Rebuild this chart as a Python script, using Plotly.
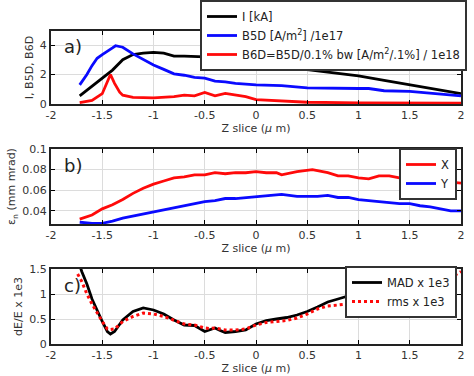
import plotly.graph_objects as go

# Panel a data
z_I = [-1.72, -1.6, -1.5, -1.4, -1.3, -1.2, -1.1, -1.0, -0.9, -0.8, -0.7, -0.6, -0.5, -0.4, -0.3, -0.2, -0.1, 0.0, 0.25, 0.5, 0.75, 1.0, 1.25, 1.5, 1.75, 2.0]
I_kA = [0.55, 1.2, 1.7, 2.3, 3.0, 3.35, 3.45, 3.5, 3.45, 3.25, 3.25, 3.2, 3.2, 3.05, 3.0, 2.95, 2.85, 2.75, 2.55, 2.35, 2.15, 1.9, 1.6, 1.3, 1.0, 0.7]

z_B5 = [-1.72, -1.65, -1.6, -1.55, -1.5, -1.45, -1.4, -1.37, -1.3, -1.2, -1.1, -1.0, -0.9, -0.8, -0.7, -0.6, -0.5, -0.4, -0.3, -0.2, 0.0, 0.25, 0.5, 0.75, 1.0, 1.1, 1.25, 1.5, 1.75, 2.0]
B5D = [1.3, 2.0, 2.6, 3.1, 3.35, 3.55, 3.8, 3.95, 3.85, 3.4, 3.0, 2.65, 2.35, 2.05, 1.95, 1.8, 1.75, 1.55, 1.5, 1.4, 1.3, 1.25, 1.1, 1.05, 1.05, 1.05, 0.9, 0.85, 0.7, 0.55]

z_B6 = [-1.72, -1.6, -1.5, -1.46, -1.42, -1.38, -1.33, -1.3, -1.2, -1.0, -0.8, -0.7, -0.6, -0.5, -0.4, -0.3, -0.2, -0.1, 0.0, 0.2, 0.5, 1.0, 1.5, 2.0]
B6D = [0.1, 0.25, 0.7, 1.4, 2.0, 1.4, 0.8, 0.6, 0.45, 0.42, 0.5, 0.6, 0.55, 0.78, 0.55, 0.72, 0.6, 0.5, 0.3, 0.22, 0.12, 0.08, 0.05, 0.05]

# Panel b data
z_em = [-1.72, -1.6, -1.5, -1.4, -1.3, -1.2, -1.1, -1.0, -0.9, -0.8, -0.7, -0.6, -0.5, -0.4, -0.3, -0.2, -0.1, 0.0, 0.1, 0.2, 0.25, 0.4, 0.55, 0.6, 0.7, 0.8, 0.9, 1.0, 1.1, 1.2, 1.3, 1.4, 1.5, 1.6, 1.7, 1.8, 1.9, 2.0]
emit_x = [0.032, 0.036, 0.042, 0.046, 0.051, 0.057, 0.062, 0.066, 0.069, 0.072, 0.073, 0.075, 0.075, 0.077, 0.076, 0.077, 0.077, 0.078, 0.077, 0.077, 0.075, 0.078, 0.080, 0.079, 0.077, 0.074, 0.074, 0.072, 0.071, 0.074, 0.074, 0.072, 0.071, 0.070, 0.070, 0.069, 0.068, 0.067]
emit_y = [0.029, 0.028, 0.028, 0.030, 0.033, 0.035, 0.037, 0.039, 0.041, 0.043, 0.045, 0.047, 0.049, 0.050, 0.052, 0.052, 0.053, 0.054, 0.055, 0.056, 0.056, 0.054, 0.054, 0.054, 0.055, 0.053, 0.053, 0.051, 0.050, 0.049, 0.048, 0.047, 0.047, 0.045, 0.044, 0.042, 0.040, 0.040]

# Panel c data
z_dE = [-1.74, -1.7, -1.65, -1.6, -1.5, -1.45, -1.42, -1.38, -1.3, -1.2, -1.1, -1.0, -0.9, -0.8, -0.7, -0.6, -0.5, -0.45, -0.4, -0.35, -0.3, -0.2, -0.1, 0.0, 0.1, 0.2, 0.3, 0.4, 0.5, 0.6, 0.7, 0.8, 0.9, 1.0, 1.1, 1.2, 1.3, 1.4, 1.5, 1.6, 1.8, 2.0]
mad = [1.7, 1.45, 1.2, 0.9, 0.45, 0.25, 0.2, 0.25, 0.48, 0.65, 0.72, 0.68, 0.6, 0.48, 0.38, 0.37, 0.25, 0.28, 0.32, 0.27, 0.23, 0.25, 0.28, 0.4, 0.47, 0.5, 0.53, 0.58, 0.65, 0.74, 0.84, 0.9, 0.96, 1.02, 1.08, 1.15, 1.25, 1.35, 1.45, 1.55, 1.7, 1.9]
rms = [1.4, 1.25, 1.0, 0.8, 0.45, 0.3, 0.29, 0.3, 0.45, 0.55, 0.62, 0.6, 0.55, 0.47, 0.4, 0.38, 0.32, 0.31, 0.32, 0.3, 0.28, 0.28, 0.3, 0.38, 0.43, 0.45, 0.47, 0.52, 0.6, 0.7, 0.76, 0.78, 0.8, 0.82, 0.85, 0.9, 0.93, 0.97, 1.0, 1.05, 1.2, 1.45]

x_ticks = [-2, -1.5, -1, -0.5, 0, 0.5, 1, 1.5, 2]
x_ticklabels = ["-2", "-1.5", "-1", "-0.5", "0", "0.5", "1", "1.5", "2"]

W, H = 474, 376
FONT = "DejaVu Sans"
LW = 2.8

fig = go.Figure()
fig.add_trace(go.Scatter(x=z_I, y=I_kA, mode="lines", line=dict(color="black", width=LW), name="I [kA]", xaxis="x", yaxis="y", legend="legend"))
fig.add_trace(go.Scatter(x=z_B5, y=B5D, mode="lines", line=dict(color="#0a0aff", width=LW), name="B5D [A/m<sup>2</sup>] /1e17", xaxis="x", yaxis="y", legend="legend"))
fig.add_trace(go.Scatter(x=z_B6, y=B6D, mode="lines", line=dict(color="#ff0a0a", width=LW), name="B6D=B5D/0.1% bw [A/m<sup>2</sup>/.1%] / 1e18", xaxis="x", yaxis="y", legend="legend"))

fig.add_trace(go.Scatter(x=z_em, y=emit_x, mode="lines", line=dict(color="#ff0a0a", width=LW), name="X", xaxis="x2", yaxis="y2", legend="legend2"))
fig.add_trace(go.Scatter(x=z_em, y=emit_y, mode="lines", line=dict(color="#0a0aff", width=LW), name="Y", xaxis="x2", yaxis="y2", legend="legend2"))

fig.add_trace(go.Scatter(x=z_dE, y=mad, mode="lines", line=dict(color="black", width=LW), name="MAD x 1e3", xaxis="x3", yaxis="y3", legend="legend3"))
fig.add_trace(go.Scatter(x=z_dE, y=rms, mode="lines", line=dict(color="#ff0a0a", width=3, dash="dot"), name="rms x 1e3", xaxis="x3", yaxis="y3", legend="legend3"))

def px_dom(top, bottom):
    return [1 - bottom / H, 1 - top / H]

xdom = [51 / W, 461 / W]
common_x = dict(range=[-2, 2], tickvals=x_ticks, ticktext=x_ticklabels, ticks="inside", ticklen=4,
                tickcolor="black", showline=True, linecolor="#222", linewidth=2, mirror="allticks",
                showgrid=True, gridcolor="#dcdcdc", gridwidth=1, zeroline=False, domain=xdom,
                tickfont=dict(size=11, color="#333"),
                title=dict(text="Z slice (<i>μ</i> m)", font=dict(size=11, color="#333"), standoff=2))
common_y = dict(ticks="inside", ticklen=4, tickcolor="black", showline=True, linecolor="#222", linewidth=2,
                mirror="allticks", showgrid=True, gridcolor="#dcdcdc", gridwidth=1, zeroline=False,
                tickfont=dict(size=11, color="#333"))

LEG = dict(bgcolor="white", bordercolor="#333", borderwidth=2, font=dict(size=11.5, color="#222"),
           tracegroupgap=0, itemwidth=30, xanchor="right", yanchor="top")

fig.update_layout(
    width=W, height=H,
    margin=dict(l=0, r=0, t=0, b=0, autoexpand=False),
    paper_bgcolor="white", plot_bgcolor="white",
    font=dict(family=FONT, size=11, color="#333"),
    xaxis=dict(**common_x, anchor="y"),
    xaxis2=dict(**common_x, anchor="y2"),
    xaxis3=dict(**common_x, anchor="y3"),
    yaxis=dict(**common_y, range=[0, 4.95], tickvals=[0, 2, 4], domain=px_dom(31, 104), anchor="x",
               title=dict(text="I, B5D, B6D", font=dict(size=11, color="#333"), standoff=4)),
    yaxis2=dict(**common_y, range=[0.0273, 0.1], tickvals=[0.04, 0.06, 0.08, 0.1], ticktext=["0.04", "0.06", "0.08", "0.1"],
                domain=px_dom(149, 224), anchor="x2",
                title=dict(text="ε<sub>n</sub> (mm mrad)", font=dict(size=11, color="#333"), standoff=4)),
    yaxis3=dict(**common_y, range=[0, 1.5], tickvals=[0, 0.5, 1, 1.5], ticktext=["0", "0.5", "1", "1.5"],
                domain=px_dom(269, 344), anchor="x3",
                title=dict(text="dE/E x 1e3", font=dict(size=11, color="#333"), standoff=4)),
    legend=dict(**LEG, x=467 / W, y=1.0),
    legend2=dict(**LEG, x=457 / W, y=1 - 148 / H),
    legend3=dict(**LEG, x=457 / W, y=1 - 266 / H),
    showlegend=True,
)

for label, yc in [("a)", 46), ("b)", 165), ("c)", 285)]:
    fig.add_annotation(text=label, x=62 / W, y=1 - yc / H, xref="paper", yref="paper", xanchor="left",
                       yanchor="middle", showarrow=False, font=dict(size=18, color="#222", family=FONT))

fig.write_html("out.html", config={"displayModeBar": False},
               post_script="document.body.style.margin='0';document.body.style.overflow='hidden';")
